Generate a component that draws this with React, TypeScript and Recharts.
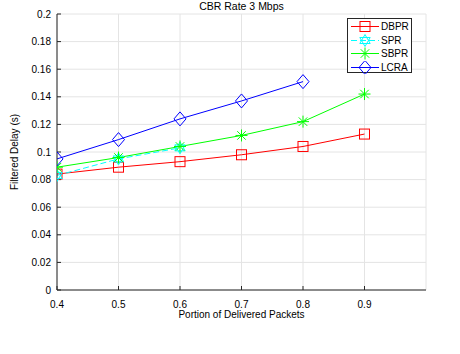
import React from 'react'
import { LineChart, Line, XAxis, YAxis, CartesianGrid } from 'recharts'

const portions = [0.4, 0.5, 0.6, 0.7, 0.8, 0.9]
const dbpr = [0.084, 0.089, 0.093, 0.098, 0.104, 0.113]
const spr = [0.083, 0.095, 0.103]
const sbpr = [0.089, 0.096, 0.104, 0.112, 0.122, 0.142]
const lcra = [0.095, 0.109, 0.124, 0.137, 0.151]

const xTicks = [0.4, 0.5, 0.6, 0.7, 0.8, 0.9]
const yTicks = [0, 0.02, 0.04, 0.06, 0.08, 0.1, 0.12, 0.14, 0.16, 0.18, 0.2]

const FONT = '"Liberation Sans", Arial, Helvetica, sans-serif'
const INK = '#262626'

const data = portions.map((p, i) => ({
  x: p,
  DBPR: dbpr[i],
  SPR: spr[i],
  SBPR: sbpr[i],
  LCRA: lcra[i],
}))

type Shape = 'square' | 'hexagram' | 'asterisk' | 'diamond'

function Marker({ cx, cy, shape, color }: { cx: number; cy: number; shape: Shape; color: string }) {
  if (shape === 'square') {
    return <rect x={cx - 5} y={cy - 5} width={10} height={10} fill="none" stroke={color} strokeWidth={1} />
  }
  if (shape === 'diamond') {
    const pts = `${cx},${cy - 7} ${cx + 6},${cy} ${cx},${cy + 7} ${cx - 6},${cy}`
    return <polygon points={pts} fill="none" stroke={color} strokeWidth={1} />
  }
  if (shape === 'hexagram') {
    const r = 6
    const tri = (off: number) =>
      [0, 1, 2]
        .map((k) => {
          const a = ((off + k * 120 - 90) * Math.PI) / 180
          return `${cx + r * Math.cos(a)},${cy + r * Math.sin(a)}`
        })
        .join(' ')
    return (
      <g>
        <polygon points={tri(0)} fill="none" stroke={color} strokeWidth={1} />
        <polygon points={tri(60)} fill="none" stroke={color} strokeWidth={1} />
      </g>
    )
  }
  // asterisk
  const r = 6
  return (
    <g stroke={color} strokeWidth={1}>
      {[0, 45, 90, 135].map((d) => {
        const a = (d * Math.PI) / 180
        return (
          <line
            key={d}
            x1={cx - r * Math.cos(a)}
            y1={cy - r * Math.sin(a)}
            x2={cx + r * Math.cos(a)}
            y2={cy + r * Math.sin(a)}
          />
        )
      })}
    </g>
  )
}

const series: { key: string; color: string; shape: Shape; dash?: string }[] = [
  { key: 'DBPR', color: '#ff0000', shape: 'square' },
  { key: 'SPR', color: '#00ffff', shape: 'hexagram', dash: '6 3' },
  { key: 'SBPR', color: '#00ff00', shape: 'asterisk' },
  { key: 'LCRA', color: '#0000ff', shape: 'diamond' },
]

function dotFor(shape: Shape, color: string) {
  return (props: any) => {
    const { cx, cy, index, value } = props
    if (value == null || cx == null || cy == null) return <g key={index} />
    return <Marker key={index} cx={cx} cy={cy} shape={shape} color={color} />
  }
}

function LegendBox() {
  return (
    <div
      style={{
        position: 'absolute',
        left: 347,
        top: 18,
        width: 65,
        height: 55,
        background: '#fff',
        border: `1px solid ${INK}`,
        fontFamily: FONT,
        fontSize: 10,
        color: '#000',
        boxSizing: 'border-box',
        paddingTop: 1,
      }}
    >
      {series.map((s) => (
        <div key={s.key} style={{ display: 'flex', alignItems: 'center', height: 13.5 }}>
          <svg width={33} height={13} style={{ flex: 'none' }}>
            <line x1={3} y1={6.5} x2={31} y2={6.5} stroke={s.color} strokeWidth={1} strokeDasharray={s.dash} />
            <Marker cx={17} cy={6.5} shape={s.shape} color={s.color} />
          </svg>
          <span>{s.key}</span>
        </div>
      ))}
    </div>
  )
}

export default function App() {
  return (
    <div style={{ position: 'absolute', left: 0, top: 0, width: 460, height: 354, background: '#fff' }}>
      <LineChart
        width={460}
        height={354}
        data={data}
        margin={{ top: 14, right: 34, bottom: 34, left: 0 }}
        style={{ fontFamily: FONT }}
      >
        <CartesianGrid stroke="#e4e4e4" strokeWidth={1} />
        <XAxis
          dataKey="x"
          type="number"
          domain={[0.4, 1.0]}
          ticks={xTicks}
          allowDataOverflow
          height={30}
          stroke={INK}
          tickSize={-4}
          tickMargin={15}
          tick={{ fill: '#000', fontSize: 10 }}
          tickFormatter={(v: number) => String(+v.toFixed(2))}
          label={{ value: 'Portion of Delivered Packets', position: 'bottom', offset: -9, fill: '#000', fontSize: 10 }}
        />
        <XAxis
          xAxisId="top"
          orientation="top"
          type="number"
          domain={[0.4, 1.0]}
          ticks={[0.4, 0.5, 0.6, 0.7, 0.8, 0.9, 1.0]}
          height={0}
          stroke={INK}
          tickSize={-4}
          tick={false}
        />
        <YAxis
          type="number"
          domain={[0, 0.2]}
          ticks={yTicks}
          width={57}
          stroke={INK}
          tickSize={-4}
          tickMargin={10}
          tick={{ fill: '#000', fontSize: 10 }}
          tickFormatter={(v: number) => String(+v.toFixed(2))}
        />
        <YAxis
          yAxisId="right"
          orientation="right"
          type="number"
          domain={[0, 0.2]}
          ticks={yTicks}
          width={0}
          stroke={INK}
          tickSize={-4}
          tick={false}
        />
        {series.map((s) => (
          <Line
            key={s.key}
            dataKey={s.key}
            stroke={s.color}
            strokeWidth={1}
            strokeDasharray={s.dash}
            dot={dotFor(s.shape, s.color)}
            activeDot={false}
            isAnimationActive={false}
          />
        ))}
      </LineChart>
      <div
        style={{
          position: 'absolute',
          left: 57,
          width: 369,
          top: 0,
          textAlign: 'center',
          fontFamily: FONT,
          fontSize: 10.5,
          lineHeight: '12px',
          color: '#000',
        }}
      >
        CBR Rate 3 Mbps
      </div>
      <div
        style={{
          position: 'absolute',
          left: 14,
          top: 152,
          transform: 'translate(-50%, -50%) rotate(-90deg)',
          whiteSpace: 'nowrap',
          fontFamily: FONT,
          fontSize: 10,
          color: '#000',
        }}
      >
        Filtered Delay (s)
      </div>
      <LegendBox />
    </div>
  )
}
